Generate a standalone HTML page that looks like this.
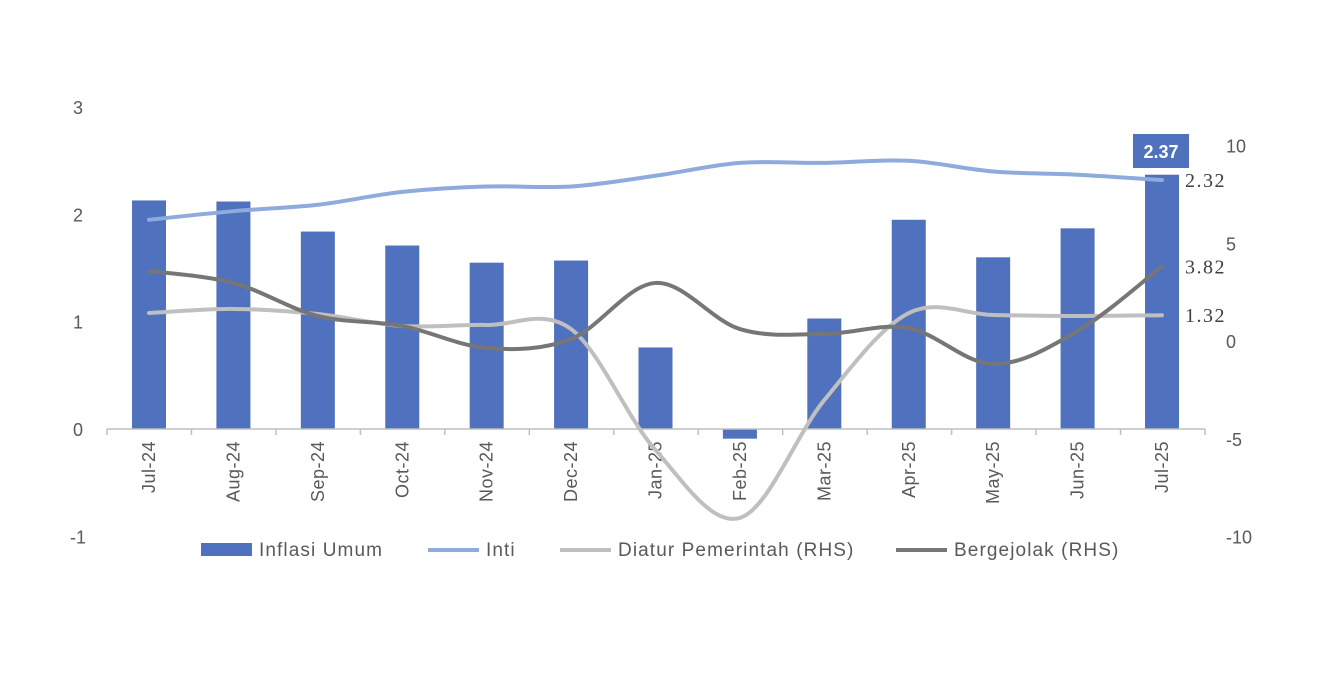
<!DOCTYPE html>
<html><head><meta charset="utf-8"><style>
body{margin:0;background:#fff;}
svg{display:block;font-family:"Liberation Sans",sans-serif;}
</style></head><body>
<svg id="chart" width="1318" height="687" viewBox="0 0 1318 687"></svg>
<script>
const categories=["Jul-24","Aug-24","Sep-24","Oct-24","Nov-24","Dec-24","Jan-25","Feb-25","Mar-25","Apr-25","May-25","Jun-25","Jul-25"];
const umum=[2.13,2.12,1.84,1.71,1.55,1.57,0.76,-0.09,1.03,1.95,1.60,1.87,2.37];
const inti=[1.95,2.03,2.09,2.21,2.26,2.26,2.36,2.48,2.48,2.50,2.40,2.37,2.32];
const diatur=[1.43,1.64,1.38,0.77,0.82,0.61,-5.58,-9.05,-3.02,1.43,1.33,1.28,1.32];
const bergejolak=[3.58,2.97,1.28,0.77,-0.36,0.1,2.97,0.61,0.36,0.66,-1.18,0.51,3.82];
const leftTicks=[3,2,1,0,-1];
const rightTicks=[10,5,0,-5,-10];

const NS="http://www.w3.org/2000/svg";
const svg=document.getElementById('chart');
function el(t,a,p){const e=document.createElementNS(NS,t);for(const k in a)e.setAttribute(k,a[k]);(p||svg).appendChild(e);return e;}
const x=i=>149+i*(1162-149)/12;
const yL=v=>429-v*107.3;
const yR=v=>341-v*19.55;

leftTicks.forEach(v=>{const t=el('text',{x:78,y:yL(v)+7,'text-anchor':'middle','font-size':18,fill:'#595959'});t.textContent=v;

});
rightTicks.forEach(v=>{const t=el('text',{x:1226,y:yR(v)+7,'text-anchor':'start','font-size':18,fill:'#595959'});t.textContent=v;

});

umum.forEach((v,i)=>{const y0=yL(0),y1=yL(v);const r=el('rect',{x:x(i)-17,y:Math.min(y0,y1),width:34,height:Math.abs(y1-y0),fill:'#4f71be'});

});

const ax=el('line',{x1:107,x2:1205,y1:429,y2:429,stroke:'#bfbfbf','stroke-width':1.5});


for(let i=0;i<=13;i++){const xx=107+i*(1205-107)/13;const tk=el('line',{x1:xx,x2:xx,y1:429,y2:435,stroke:'#bfbfbf','stroke-width':1.5});

}
categories.forEach((c,i)=>{const t=el('text',{x:0,y:0,'text-anchor':'end','font-size':18,'letter-spacing':0.5,fill:'#595959',transform:`translate(${x(i)+6},441) rotate(-90)`});t.textContent=c;

});

function smooth(pts){let d=`M${pts[0][0]},${pts[0][1]}`;for(let i=0;i<pts.length-1;i++){const p0=pts[i-1]||pts[i],p1=pts[i],p2=pts[i+1],p3=pts[i+2]||p2;const k=1/6;
d+=` C${p1[0]+(p2[0]-p0[0])*k},${p1[1]+(p2[1]-p0[1])*k} ${p2[0]-(p3[0]-p1[0])*k},${p2[1]-(p3[1]-p1[1])*k} ${p2[0]},${p2[1]}`;}return d;}
function line(data,yf,color,name){const p=el('path',{d:smooth(data.map((v,i)=>[x(i),yf(v)])),fill:'none',stroke:color,'stroke-width':4,'stroke-linecap':'round'});

}
line(diatur,yR,'#bfbfbf','diatur-line');
line(bergejolak,yR,'#767676','bergejolak-line');
line(inti,yL,'#8faadc','inti-line');

const n=categories.length-1;
const bx=el('rect',{x:x(n)-29,y:134,width:56,height:34,fill:'#4f71be'});


const bt=el('text',{x:x(n)-1,y:158,'text-anchor':'middle','font-size':18,'font-weight':'bold',fill:'#fff'});bt.textContent=umum[n].toFixed(2);


[[inti[n],yL,'inti-value-label'],[bergejolak[n],yR,'bergejolak-value-label'],[diatur[n],yR,'diatur-value-label']].forEach(([v,f,nm])=>{
const t=el('text',{x:1185,y:f(v)+7,'font-size':20,'letter-spacing':1.5,fill:'#404040','font-family':'"Liberation Serif",serif'});t.textContent=v.toFixed(2);

});

const leg=[["Inflasi Umum",201,'bar','#4f71be'],["Inti",428,'line','#8faadc'],["Diatur Pemerintah (RHS)",560,'line','#bfbfbf'],["Bergejolak (RHS)",896,'line','#767676']];
leg.forEach(([lab,lx,type,c])=>{const g=el('g',{});


if(type==='bar')el('rect',{x:lx,y:543,width:51,height:13,fill:c},g);else el('line',{x1:lx,x2:lx+51,y1:550,y2:550,stroke:c,'stroke-width':4},g);
const t=el('text',{x:lx+58,y:556,'font-size':19,'letter-spacing':1.1,fill:'#595959'},g);t.textContent=lab;});
</script>
</body></html>
